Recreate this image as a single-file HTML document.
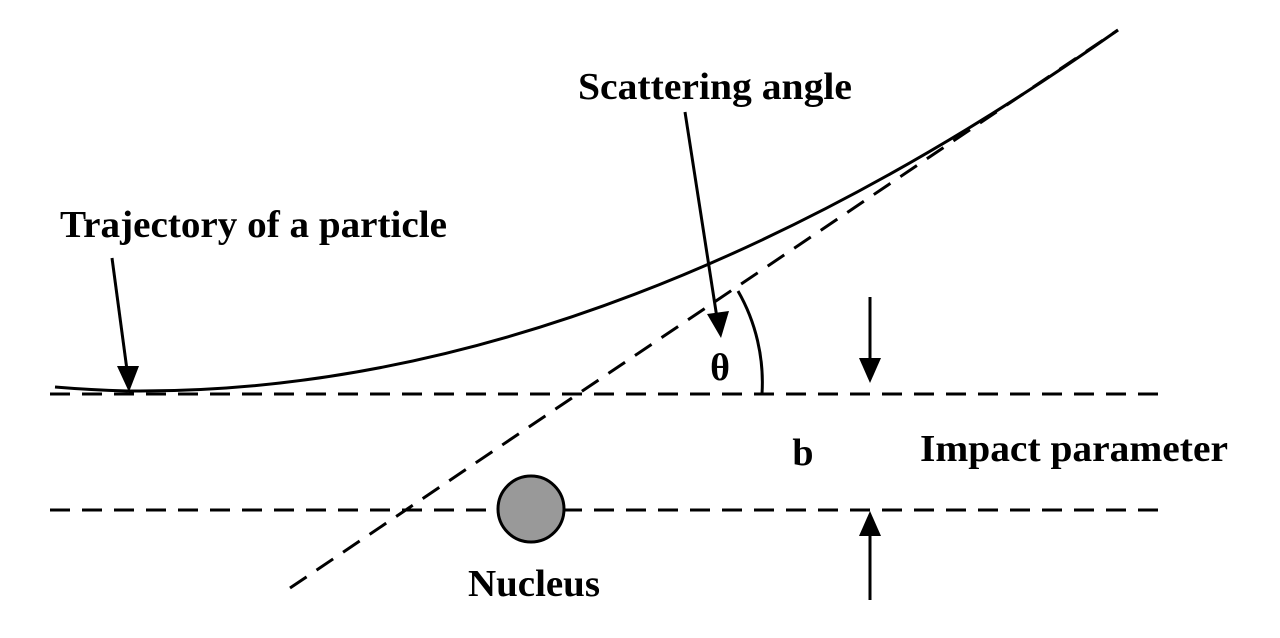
<!DOCTYPE html>
<html><head><meta charset="utf-8"><style>html,body{margin:0;padding:0;background:#fff}</style></head>
<body>
<svg width="1280" height="633" viewBox="0 0 1280 633" xmlns="http://www.w3.org/2000/svg">
<g stroke="#000" stroke-width="3" fill="none">
<line x1="50" y1="394" x2="1162" y2="394" stroke-dasharray="20,12"/>
<line x1="50" y1="510" x2="1162" y2="510" stroke-dasharray="20,12"/>
<line x1="290" y1="588" x2="1118" y2="30" stroke-dasharray="20,12"/>
<path d="M55,387 Q90,390 130,391 Q600,395 1118,30"/>
<path d="M738,291 A184,184 0 0 1 762,394"/>
<line x1="112" y1="258" x2="127" y2="370"/>
<line x1="685" y1="112" x2="717" y2="318"/>
<line x1="870" y1="297" x2="870" y2="362"/>
<line x1="870" y1="600" x2="870" y2="532"/>
</g>
<g fill="#000">
<path d="M117,366 L139,366 L129,392z"/>
<path d="M707,314 L729,311 L721,338z"/>
<path d="M859,358 L881,358 L870,383z"/>
<path d="M859,536 L881,536 L870,511z"/>
</g>
<circle cx="531" cy="509" r="33" fill="#999" stroke="#000" stroke-width="3"/>
<g font-family="Liberation Serif, serif" font-weight="bold" font-size="38" fill="#000">
<text x="578" y="99" textLength="274" lengthAdjust="spacingAndGlyphs">Scattering angle</text>
<text x="60" y="237" textLength="387" lengthAdjust="spacingAndGlyphs">Trajectory of a particle</text>
<text x="720" y="380" text-anchor="middle">θ</text>
<text x="803" y="465" text-anchor="middle">b</text>
<text x="920" y="461" textLength="308" lengthAdjust="spacingAndGlyphs">Impact parameter</text>
<text x="468" y="596" textLength="132" lengthAdjust="spacingAndGlyphs">Nucleus</text>
</g>
</svg>
</body></html>
